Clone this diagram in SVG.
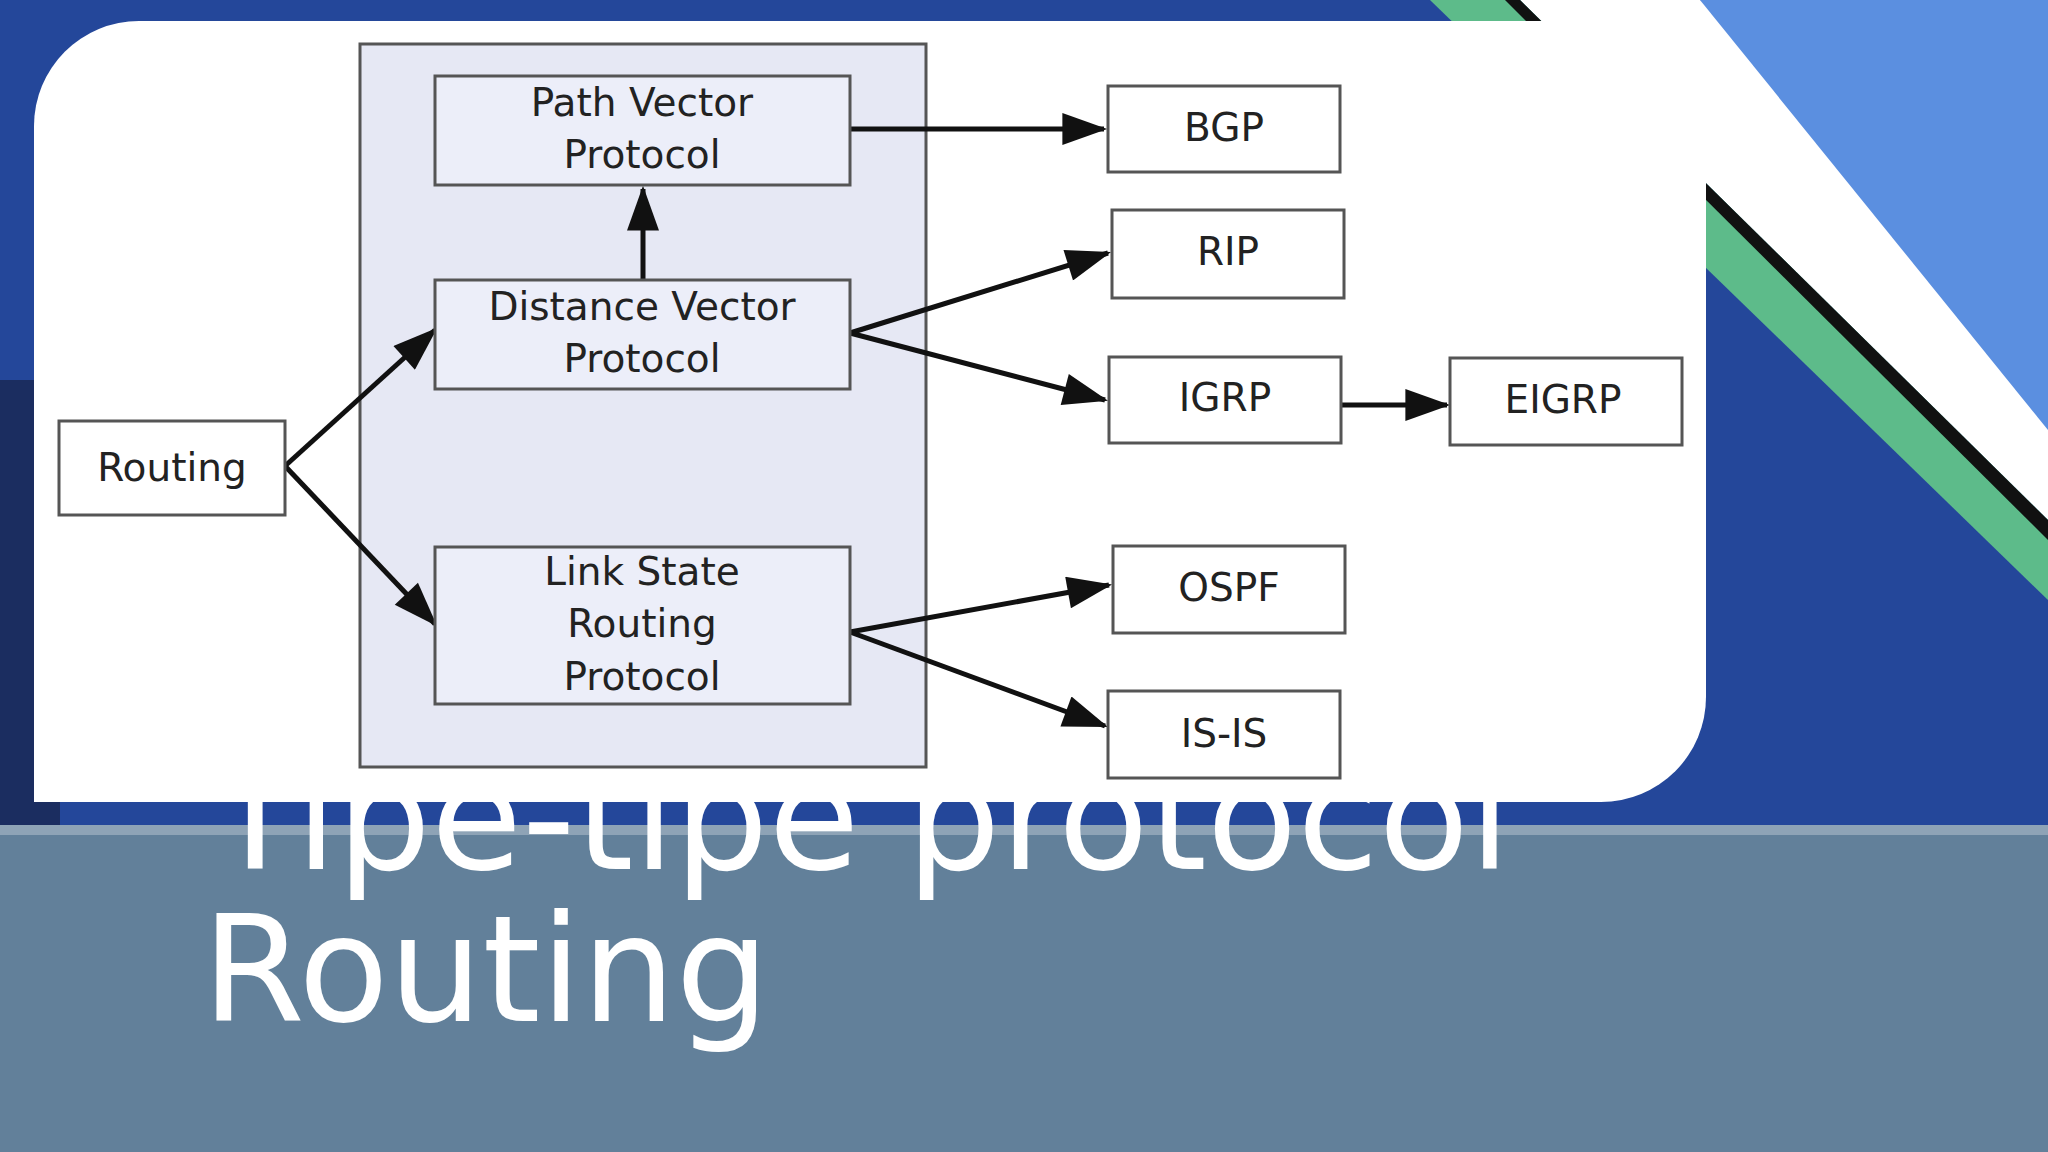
<svg xmlns="http://www.w3.org/2000/svg" width="2048" height="1152" viewBox="0 0 2048 1152">
<defs>
<style>
.n rect{fill:#ffffff;stroke:#555;stroke-width:3}
.in rect{fill:#eceef9}
text.t{font-family:"DejaVu Sans",sans-serif;font-size:39px;fill:#222;text-anchor:middle}
#edges line{stroke:#111;stroke-width:5;marker-end:url(#ah)}
</style>
<marker id="ah" viewBox="0 0 14 10" refX="13" refY="5" markerWidth="50" markerHeight="32" markerUnits="userSpaceOnUse" orient="auto">
<path d="M0,0 L14,5 L0,10 Z" fill="#111"/>
</marker>
</defs>
<rect x="0" y="0" width="2048" height="1152" fill="#24479a"/>
<polygon points="0,380 60,380 60,830 0,830" fill="#1b2d60"/>
<polygon points="1420,0 2048,0 2048,560 1700,0" fill="#5b8fe0"/>
<polygon points="1520,0 1700,0 2048,430 2048,520" fill="#ffffff"/>
<polygon points="1430,0 1520,0 2048,520 2048,600" fill="#5dbb8a"/>
<polygon points="1505,0 1520,0 2048,520 2048,540" fill="#111"/>
<rect x="0" y="825" width="2048" height="327" fill="#62809a"/>
<rect x="0" y="825" width="2048" height="10" fill="#8ea3b6"/>
<text x="210" y="869" font-family="DejaVu Sans,sans-serif" font-size="148" fill="#fff">Tipe-tipe protocol</text>
<text x="202" y="1021" font-family="DejaVu Sans,sans-serif" font-size="148" fill="#fff">Routing</text>
<path d="M139,21 H1706 V697 A105,105 0 0 1 1601,802 H34 V126 A105,105 0 0 1 139,21 Z" fill="#ffffff"/>
<g id="container"><rect x="360" y="44" width="566" height="723" fill="#e6e8f4" stroke="#555" stroke-width="3"/></g>
<g id="edges">
<line x1="850" y1="129" x2="1104" y2="129"/>
<line x1="643" y1="280" x2="643" y2="189"/>
<line x1="850" y1="333" x2="1108" y2="253"/>
<line x1="850" y1="333" x2="1105" y2="400"/>
<line x1="1341" y1="405" x2="1447" y2="405"/>
<line x1="285" y1="466" x2="435" y2="330"/>
<line x1="285" y1="466" x2="435" y2="624"/>
<line x1="850" y1="632" x2="1109" y2="585"/>
<line x1="850" y1="632" x2="1105" y2="726"/>
</g>
<g id="pathvector" class="n in"><rect x="435" y="76" width="415" height="109"/><text class="t" x="642" y="116">Path Vector</text><text class="t" x="642" y="168">Protocol</text></g>
<g id="distancevector" class="n in"><rect x="435" y="280" width="415" height="109"/><text class="t" x="642" y="320">Distance Vector</text><text class="t" x="642" y="372">Protocol</text></g>
<g id="linkstate" class="n in"><rect x="435" y="547" width="415" height="157"/><text class="t" x="642" y="585">Link State</text><text class="t" x="642" y="637">Routing</text><text class="t" x="642" y="690">Protocol</text></g>
<g id="routing" class="n"><rect x="59" y="421" width="226" height="94"/><text class="t" x="172" y="481">Routing</text></g>
<g id="bgp" class="n"><rect x="1108" y="86" width="232" height="86"/><text class="t" x="1224" y="141">BGP</text></g>
<g id="rip" class="n"><rect x="1112" y="210" width="232" height="88"/><text class="t" x="1228" y="265">RIP</text></g>
<g id="igrp" class="n"><rect x="1109" y="357" width="232" height="86"/><text class="t" x="1225" y="411">IGRP</text></g>
<g id="eigrp" class="n"><rect x="1450" y="358" width="232" height="87"/><text class="t" x="1563" y="413">EIGRP</text></g>
<g id="ospf" class="n"><rect x="1113" y="546" width="232" height="87"/><text class="t" x="1229" y="601">OSPF</text></g>
<g id="isis" class="n"><rect x="1108" y="691" width="232" height="87"/><text class="t" x="1224" y="747">IS-IS</text></g>
</svg>
